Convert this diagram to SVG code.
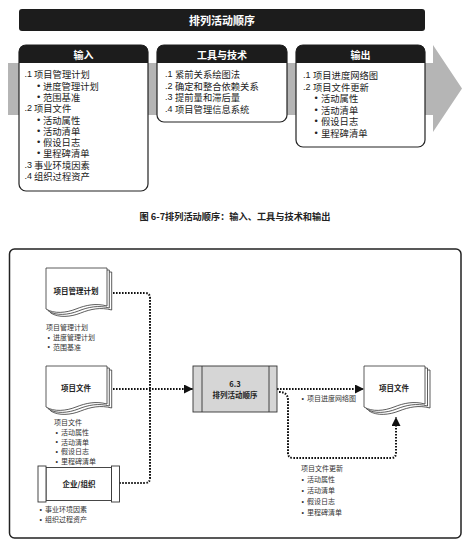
<svg xmlns="http://www.w3.org/2000/svg" xmlns:xlink="http://www.w3.org/1999/xlink" width="474" height="557" viewBox="0 0 474 557">
<style>
text{font-family:"Noto Sans CJK SC","Noto Sans",sans-serif;dominant-baseline:central}
.hdr{fill:#fff;font-weight:bold;font-size:10px;text-anchor:middle}
.li{fill:#222;font-size:9.3px}
.n{fill:#222;font-size:9px;text-anchor:end;font-family:"Liberation Sans",sans-serif}
.b{font-family:"Liberation Sans",sans-serif}
.sm{fill:#333;font-size:7px}
.lbl{fill:#222;font-size:7.5px;font-weight:bold;text-anchor:middle}
.box{fill:#fff;stroke:#222;stroke-width:1.2}
.hd{fill:#1c1c1c}
.page{fill:#fff;stroke:#333;stroke-width:0.8}
.dot{fill:none;stroke:#111;stroke-width:2;stroke-dasharray:1.6 1.4}
</style>
<defs>
<path id="pg" d="M0,0 H61 V38 C50,35 40,37 30,41 C20,45 8,46 0,41 Z"/>
<marker id="ah" markerUnits="userSpaceOnUse" markerWidth="9" markerHeight="9" refX="9" refY="4.5" orient="auto">
<path d="M0,0 L9,4.5 L0,9 Z" fill="#111"/>
</marker>
</defs>
<rect width="474" height="557" fill="#fff"/>

<g id="title">
<rect x="19" y="9" width="406" height="22" rx="3" fill="#1c1c1c"/>
<text x="222" y="20" style="fill:#fff;font-weight:bold;font-size:11px;text-anchor:middle">排列活动顺序</text>
</g>

<path id="flow-arrow" d="M8,63 H433 V45 L462,88.5 L433,132 V115 H8 Z" fill="#b5b5b5"/>

<g id="inputs">
<rect class="box" x="19" y="45" width="129" height="146" rx="7"/>
<path class="hd" d="M19,63 V52 Q19,45 26,45 H141 Q148,45 148,52 V63 Z"/>
<text class="hdr" x="83.5" y="54">输入</text>
<text class="n" x="32" y="74.3">.1</text><text class="li" x="34" y="74.3">项目管理计划</text>
<text class="li b" x="37" y="85.6">•</text><text class="li" x="43" y="85.6">进度管理计划</text>
<text class="li b" x="37" y="96.9">•</text><text class="li" x="43" y="96.9">范围基准</text>
<text class="n" x="32" y="108.2">.2</text><text class="li" x="34" y="108.2">项目文件</text>
<text class="li b" x="37" y="119.5">•</text><text class="li" x="43" y="119.5">活动属性</text>
<text class="li b" x="37" y="130.8">•</text><text class="li" x="43" y="130.8">活动清单</text>
<text class="li b" x="37" y="142.1">•</text><text class="li" x="43" y="142.1">假设日志</text>
<text class="li b" x="37" y="153.4">•</text><text class="li" x="43" y="153.4">里程碑清单</text>
<text class="n" x="32" y="164.7">.3</text><text class="li" x="34" y="164.7">事业环境因素</text>
<text class="n" x="32" y="176">.4</text><text class="li" x="34" y="176">组织过程资产</text>
</g>

<g id="tools">
<rect class="box" x="157" y="45" width="130" height="77" rx="7"/>
<path class="hd" d="M157,63 V52 Q157,45 164,45 H280 Q287,45 287,52 V63 Z"/>
<text class="hdr" x="222" y="54">工具与技术</text>
<text class="n" x="172.5" y="74">.1</text><text class="li" x="175" y="74">紧前关系绘图法</text>
<text class="n" x="172.5" y="85.5">.2</text><text class="li" x="175" y="85.5">确定和整合依赖关系</text>
<text class="n" x="172.5" y="97">.3</text><text class="li" x="175" y="97">提前量和滞后量</text>
<text class="n" x="172.5" y="108.5">.4</text><text class="li" x="175" y="108.5">项目管理信息系统</text>
</g>

<g id="outputs">
<rect class="box" x="296" y="45" width="129" height="102" rx="7"/>
<path class="hd" d="M296,63 V52 Q296,45 303,45 H418 Q425,45 425,52 V63 Z"/>
<text class="hdr" x="360.5" y="54">输出</text>
<text class="n" x="310.5" y="75">.1</text><text class="li" x="313" y="75">项目进度网络图</text>
<text class="n" x="310.5" y="86.5">.2</text><text class="li" x="313" y="86.5">项目文件更新</text>
<text class="li b" x="314.5" y="98">•</text><text class="li" x="321" y="98">活动属性</text>
<text class="li b" x="314.5" y="109.5">•</text><text class="li" x="321" y="109.5">活动清单</text>
<text class="li b" x="314.5" y="121">•</text><text class="li" x="321" y="121">假设日志</text>
<text class="li b" x="314.5" y="132.5">•</text><text class="li" x="321" y="132.5">里程碑清单</text>
</g>

<text id="caption" x="235" y="215.5" style="fill:#222;font-weight:bold;font-size:9.2px;text-anchor:middle">图 6-7排列活动顺序：输入、工具与技术和输出</text>

<rect id="frame" x="9.5" y="249" width="451.5" height="289" rx="5" fill="none" stroke="#222" stroke-width="1.5"/>

<g id="connectors">
<path class="dot" d="M113,293 H145 Q150,293 150,298 V478 Q150,483 145,483 H119"/>
<path class="dot" d="M113,389 H193" marker-end="url(#ah)"/>
<path class="dot" d="M277,389 H364" marker-end="url(#ah)"/>
<path class="dot" d="M279,392 Q288,392 288,400 V453 Q288,458 293,458 H391 Q396,458 396,453 V417" marker-end="url(#ah)"/>
</g>

<g id="doc-pmp">
<use href="#pg" class="page" x="50.7" y="272"/>
<use href="#pg" class="page" x="48.3" y="270"/>
<use href="#pg" class="page" x="46" y="268"/>
<text class="lbl" x="76" y="290">项目管理计划</text>
</g>
<g id="doc-pmp-notes">
<text class="sm" x="46" y="327">项目管理计划</text>
<text class="sm b" x="47.5" y="337">•</text><text class="sm" x="53" y="337">进度管理计划</text>
<text class="sm b" x="47.5" y="346.5">•</text><text class="sm" x="53" y="346.5">范围基准</text>
</g>

<g id="doc-pd-in">
<use href="#pg" class="page" x="50.7" y="370"/>
<use href="#pg" class="page" x="48.3" y="368"/>
<use href="#pg" class="page" x="46" y="366"/>
<text class="lbl" x="76" y="387">项目文件</text>
</g>
<g id="doc-pd-in-notes">
<text class="sm" x="54" y="422">项目文件</text>
<text class="sm b" x="55.5" y="432">•</text><text class="sm" x="61" y="432">活动属性</text>
<text class="sm b" x="55.5" y="441.5">•</text><text class="sm" x="61" y="441.5">活动清单</text>
<text class="sm b" x="55.5" y="451">•</text><text class="sm" x="61" y="451">假设日志</text>
<text class="sm b" x="55.5" y="461">•</text><text class="sm" x="61" y="461">里程碑清单</text>
</g>

<g id="enterprise">
<rect x="46" y="467.5" width="65.5" height="33" fill="#fff" stroke="#333" stroke-width="0.9"/>
<rect x="38" y="466" width="8" height="36" fill="#fff" stroke="#333" stroke-width="0.9"/>
<rect x="111.5" y="466" width="8" height="36" fill="#fff" stroke="#333" stroke-width="0.9"/>
<text class="lbl" x="79" y="483">企业/组织</text>
<text class="sm b" x="39.5" y="509">•</text><text class="sm" x="45" y="509">事业环境因素</text>
<text class="sm b" x="39.5" y="519">•</text><text class="sm" x="45" y="519">组织过程资产</text>
</g>

<g id="process">
<rect x="193" y="366" width="84" height="46" fill="#d6d6d6" stroke="#333" stroke-width="0.9"/>
<line x1="202" y1="366" x2="202" y2="412" stroke="#333" stroke-width="0.9"/>
<line x1="269" y1="366" x2="269" y2="412" stroke="#333" stroke-width="0.9"/>
<text class="lbl" x="235" y="383">6.3</text>
<text class="lbl" x="235" y="394">排列活动顺序</text>
</g>

<g id="doc-pd-out">
<use href="#pg" class="page" x="369" y="370"/>
<use href="#pg" class="page" x="366.5" y="368"/>
<use href="#pg" class="page" x="364" y="366"/>
<text class="lbl" x="394" y="387">项目文件</text>
</g>
<g id="out-notes">
<text class="sm b" x="301.5" y="398">•</text><text class="sm" x="307" y="398">项目进度网络图</text>
<text class="sm" x="301" y="468">项目文件更新</text>
<text class="sm b" x="301.5" y="479">•</text><text class="sm" x="307" y="479">活动属性</text>
<text class="sm b" x="301.5" y="490">•</text><text class="sm" x="307" y="490">活动清单</text>
<text class="sm b" x="301.5" y="501">•</text><text class="sm" x="307" y="501">假设日志</text>
<text class="sm b" x="301.5" y="512">•</text><text class="sm" x="307" y="512">里程碑清单</text>
</g>
</svg>
